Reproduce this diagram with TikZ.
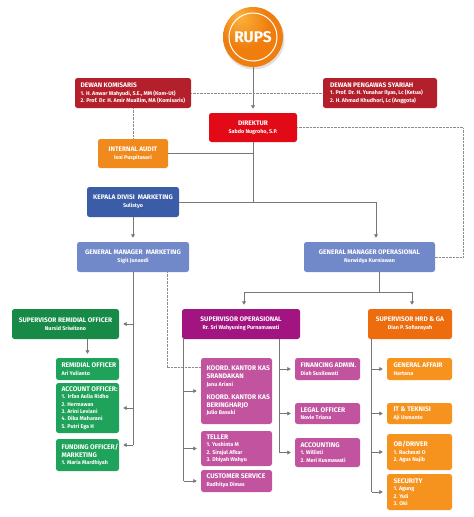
\documentclass[tikz,border=0pt]{standalone}
\usepackage{fontspec}
\setmainfont{Fira Sans}
\usetikzlibrary{arrows.meta}
\definecolor{cDK}{HTML}{B3202C}
\definecolor{cDIR}{HTML}{E30A17}
\definecolor{cIA}{HTML}{F08A1D}
\definecolor{cKDM}{HTML}{3B5CA6}
\definecolor{cGM}{HTML}{7189C8}
\definecolor{cSRO}{HTML}{178A48}
\definecolor{cGRN}{HTML}{1FA259}
\definecolor{cSO}{HTML}{A2147F}
\definecolor{cPUR}{HTML}{C2549F}
\definecolor{cSHR}{HTML}{EC6C0E}
\definecolor{cORG}{HTML}{F6931E}
\definecolor{lineC}{HTML}{777777}
\definecolor{dotC}{HTML}{8C8C8C}
\definecolor{rupsY}{HTML}{FBB43E}
\definecolor{rupsO}{HTML}{F07E0E}
\definecolor{rupsD}{HTML}{DF5F08}
\pgfdeclareradialshading{rupsball}{\pgfpoint{-12bp}{18bp}}{color(0bp)=(rupsY); color(20bp)=(rupsO); color(38bp)=(rupsO); color(50bp)=(rupsD)}
\newcommand\hdA{\fontsize{6.6}{7.6}\selectfont}
\newcommand\hdB{\fontsize{6.7}{7.8}\selectfont}
\newcommand\nmfont{\bfseries\fontsize{5.4}{7.4}\selectfont}
\tikzset{
  boxS/.style={rounded corners=2.5pt, inner sep=0pt, draw=none},
  txtS/.style={inner sep=0pt, text=white, font=\nmfont},
  conn/.style={draw=lineC, line width=0.9pt},
  arr/.style={conn, -{Triangle[length=3.5pt,width=3.8pt]}, shorten >=4pt},
  dotl/.style={draw=dotC, line width=0.7pt, dash pattern=on 0.7pt off 0.7pt},
}
% name, fill, cx, cy, w, h, text  (left aligned)
\newcommand\LBox[8][5.5]{%
  \node[boxS, fill=#3, minimum width=#6pt, minimum height=#7pt] (#2) at (#4,#5) {};
  \node[txtS, align=left, anchor=west] (#2t) at ([xshift=#1pt]#2.west) {#8};}
\newcommand\CBox[7]{%
  \node[boxS, fill=#2, minimum width=#5pt, minimum height=#6pt] (#1) at (#3,#4) {};
  \node[txtS, align=center] (#1t) at (#1.center) {#7};}
\begin{document}
\begin{tikzpicture}[x=1pt,y=-1pt]
\useasboundingbox (0,0) rectangle (474,517);
\fill[white] (0,0) rectangle (474,517);

% RUPS
\fill[black!12] (254,39) circle (30.5pt);
\node[circle, minimum size=60pt, inner sep=0pt, shading=rupsball] (rups) at (253,37) {};
\draw[white, line width=1pt] (rups.center) circle (24pt);
\node[text=white, font=\bfseries\fontsize{15.5}{15.5}\selectfont] (rupst) at (rups.center) {RUPS};

% boxes
\LBox{dk}{cDK}{133}{93}{116}{30}{{\hdA DEWAN KOMISARIS}\\[0.4pt]1. H. Anwar Wahyudi, S.E., MM (Kom-Ut)\\2. Prof. Dr. H. Amir Muallim, MA (Komisaris)}
\LBox[7]{dps}{cDK}{380}{93}{114}{30}{{\hdA DEWAN PENGAWAS SYARIAH}\\[0.4pt]1. Prof. Dr. H. Yunahar Ilyas, Lc (Ketua)\\2. H. Ahmad Khudhori, Lc (Anggota)}
\CBox{dir}{cDIR}{253}{127.5}{88}{29}{{\hdA DIREKTUR}\\[0.4pt]Sabdo Nugroho, S.P.}
\CBox{ia}{cIA}{133}{153.5}{70}{29}{{\hdA INTERNAL AUDIT}\\[0.4pt]Isni Puspitasari}
\CBox{kdm}{cKDM}{133}{202}{92}{30}{{\hdA KEPALA DIVISI\ \ MARKETING}\\[0.4pt]Sulistyo}
\CBox{gmm}{cGM}{133}{257}{112}{30}{{\hdA GENERAL MANAGER\ \ MARKETING}\\[0.4pt]Sigit Junaedi}
\CBox{gmo}{cGM}{369.5}{257}{131}{30}{{\hdA GENERAL MANAGER OPERASIONAL}\\[0.4pt]Nurwidya Kurniawan}
\CBox{sro}{cSRO}{65.5}{324}{107}{30}{{\hdA SUPERVISOR REMIDIAL OFFICER}\\[0.4pt]Nursid Sriwitono}
\CBox{so}{cSO}{241}{324}{118}{30}{{\hdA SUPERVISOR OPERASIONAL}\\[0.4pt]Rr. Sri Wahyuning Purnamawati}
\CBox{shrd}{cSHR}{410}{324}{84}{30}{{\hdA SUPERVISOR HRD \& GA}\\[0.4pt]Dian P. Sofiansyah}

\LBox{ro}{cGRN}{87.5}{369}{63}{22}{{\hdB REMIDIAL OFFICER}\\[0.2pt]Ari Yulianto}
\LBox{ao}{cGRN}{87.5}{408}{63}{50}{{\hdB ACCOUNT OFFICER:}\\[0.2pt]1.\ \ Irfan Aulia Ridho\\2. Hermawan\\3. Arini Leviani\\4. Dika Maharani\\5. Putri Ega H}
\LBox{fo}{cGRN}{87.5}{455}{63}{32}{{\hdB FUNDING OFFICER/}\\[0.6pt]{\hdB MARKETING}\\[0.2pt]1. Maria Mardhiyah}

\LBox{koord}{cPUR}{236.5}{391}{71}{66}{{\hdB KOORD. KANTOR KAS}\\[0.6pt]{\hdB SRANDAKAN}\\[0.2pt]Janu Ariani\\[5.5pt]{\hdB KOORD. KANTOR KAS}\\[0.6pt]{\hdB BERINGHARJO}\\[0.2pt]Julio Basuki}
\LBox{teller}{cPUR}{236.5}{448.5}{71}{35}{{\hdB TELLER}\\[0.2pt]1. Yushinta M\\2. Sirajul Afkar\\3. Dhiyah Wahyu}
\LBox{cs}{cPUR}{236.5}{481}{71}{22}{{\hdB CUSTOMER SERVICE}\\[0.2pt]Radhitya Dimas}
\LBox{fa}{cPUR}{327.5}{369}{65}{22}{{\hdB FINANCING ADMIN.}\\[0.2pt]Diah Susilowati}
\LBox{lo}{cPUR}{327.5}{413.5}{65}{21}{{\hdB LEGAL OFFICER}\\[0.2pt]Novie Triana}
\LBox{acc}{cPUR}{327.5}{452.5}{65}{29}{{\hdB ACCOUNTING}\\[0.2pt]1. Willisti\\2. Meri Kusmawati}

\LBox[6.5]{ga}{cORG}{419.5}{369}{65}{22}{{\hdB GENERAL AFFAIR}\\[0.2pt]Hartana}
\LBox[6.5]{it}{cORG}{419.5}{413.5}{65}{21}{{\hdB IT \& TEKNISI}\\[0.2pt]Aji Usmanto}
\LBox[6.5]{ob}{cORG}{419.5}{452}{65}{36}{{\hdB OB/DRIVER}\\[0.2pt]1. Rachmat O\\2. Agus Najib}
\LBox[6.5]{sec}{cORG}{419.5}{492}{65}{36}{{\hdB SECURITY}\\[0.2pt]1. Agung\\2. Yuli\\3. Oki}

% connectors
\draw[arr] (rups) -- (dir);
\draw[dotl] (dk) -- (dps);
\draw[dotl] (dk.south) -- (ia.north);
\coordinate (j1) at (253,202);
\coordinate (j2) at (376,202);
\draw[conn] (dir.south) -- (j1);
\draw[conn] (ia.east) -- (ia.east -| dir.south);
\draw[conn] (kdm.east) -- (j2);
\draw[arr] (j2) -- (j2 |- gmo.north);
\draw[dotl] (dir.east) -- ++(166,0) |- (gmo.east);

\draw[arr] (kdm) -- (gmm);
\coordinate (gmmEnd) at (133,445);
\draw[conn] (gmm.south) -- (gmmEnd);
\draw[arr] (gmm.south |- sro.east) -- (sro.east);
\draw[arr] (gmm.south |- ao.east) -- (ao.east);
\draw[arr] (gmmEnd) -- (fo.east |- gmmEnd);
\draw[arr] (ro.north |- sro.south) -- (ro.north);
\draw[dotl] ([xshift=34pt]gmm.south) |- ([yshift=-10pt]koord.north west);

\coordinate (j3) at (379,292);
\draw[conn] (j3 |- gmo.south) -- (j3);
\draw[arr] (j3) -| ([xshift=3pt]so.north);
\draw[arr] (j3) -| ([xshift=2pt]shrd.north);

\coordinate (sL) at ([xshift=2pt]so.south west);
\draw[conn] (sL) -- (sL |- cs.west);
\draw[arr] (sL |- koord.west) -- (koord.west);
\draw[arr] (sL |- teller.west) -- (teller.west);
\draw[arr] (sL |- cs.west) -- (cs.west);
\coordinate (sR) at ([xshift=-21pt]so.south east);
\draw[conn] (sR) -- (sR |- acc.west);
\draw[arr] (sR |- fa.west) -- (fa.west);
\draw[arr] (sR |- lo.west) -- (lo.west);
\draw[arr] (sR |- acc.west) -- (acc.west);
\coordinate (hR) at ([xshift=4pt]shrd.south west);
\draw[conn] (hR) -- (hR |- sec.west);
\draw[arr] (hR |- ga.west) -- (ga.west);
\draw[arr] (hR |- it.west) -- (it.west);
\draw[arr] (hR |- ob.west) -- (ob.west);
\draw[arr] (hR |- sec.west) -- (sec.west);
\end{tikzpicture}
\end{document}
